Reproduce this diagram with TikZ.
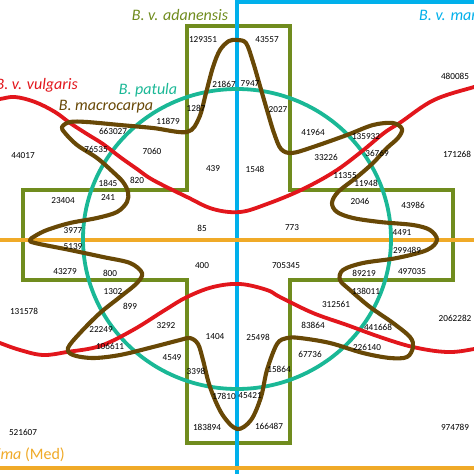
\documentclass[tikz,border=0pt]{standalone}
\usepackage{fontspec}
\setmainfont{Carlito}
\definecolor{vred}{RGB}{226,22,28}
\definecolor{mbrown}{RGB}{104,72,6}
\definecolor{pteal}{RGB}{26,184,150}
\definecolor{aolive}{RGB}{112,140,30}
\definecolor{mblue}{RGB}{0,176,235}
\definecolor{morange}{RGB}{240,170,40}
\begin{document}
\begin{tikzpicture}[x=1pt,y=-1pt,
  num/.style={font=\fontsize{9.2}{10}\selectfont, text=black, inner sep=0pt},
  setlab/.style={font=\fontsize{16}{18}\selectfont\itshape, inner sep=0pt},
  frame/.style={line width=3.2pt},
  curve/.style={line width=3.8pt, line join=round}]
\useasboundingbox (0,0) rectangle (474,474);
\fill[white] (0,0) rectangle (474,474);
\clip (0,0) rectangle (474,474);
% B. v. adanensis (cross)
\draw[aolive, frame] (187,26) -- (290,26) -- (290,190) -- (453,190) -- (453,280) -- (290,280) -- (290,443) -- (187,443) -- (187,280) -- (23,280) -- (23,190) -- (187,190) -- cycle;
% B. v. maritima (blue)
\draw[mblue, frame] (237,490) -- (237,2) -- (490,2);
% B. v. maritima (Med) (orange)
\draw[morange, frame] (-10,240) -- (490,240);
\draw[morange, frame] (-10,468) -- (490,468);
% B. patula
\draw[pteal, curve] (237,239) ellipse [x radius=154, y radius=150];
% B. v. vulgaris
\draw[vred, curve] plot[smooth, tension=0.6] coordinates {(-20,102) (0,99) (15,97) (35,102) (55,112) (70,123) (87,134) (103,144) (120,157) (137,169) (153,180) (187,197) (213,209) (240,212) (267,204) (301,190) (334,172) (361,152) (384,133) (401,122) (434,100) (474,87) (500,80)};
\draw[vred, curve] plot[smooth, tension=0.6] coordinates {(-20,335) (0,343) (20,350) (43,355) (67,352) (100,346) (133,330) (165,310) (187,297) (213,287) (240,284) (267,290) (280,297) (313,313) (347,325) (380,337) (413,347) (447,352) (474,349) (500,343)};
% B. macrocarpa
\draw[mbrown, curve, line width=4.1pt] plot[smooth cycle, tension=0.55] coordinates {
(237,40) (246,43) (253,62) (260,86) (267,110) (274,133) (281,149) (292,153)
(313,147) (347,135) (373,125) (393,123) (402,129)
(398,138) (387,148) (373,163) (357,177) (338,192) (332,203) (337,212) (353,218) (380,222) (413,225) (430,230) (437,240)
(427,250) (397,258) (363,263) (343,270) (340,280) (350,290) (370,307) (393,323) (410,337) (413,347)
(407,357) (390,358) (363,353) (330,343) (300,338) (287,338) (277,344) (267,370) (261,397) (251,420) (237,429)
(222,414) (210,387) (203,360) (198,344) (190,338) (180,340) (153,347) (120,355) (93,358) (73,355) (68,348)
(80,333) (100,313) (120,297) (137,283) (142,273) (130,263) (103,257) (70,250) (35,243) (30,240)
(35,236) (47,230) (70,223) (97,218) (117,212) (127,202) (128,192) (123,182) (113,172) (97,158) (77,145) (65,133) (62,127)
(70,122) (87,122) (120,125) (153,128) (187,132) (199,118) (206,93) (213,67) (220,50) (229,41)};
% set labels
\node[setlab, text=aolive] (ladan) at (180,15) {B. v. adanensis};
\node[setlab, text=mblue, anchor=west] (lmar) at (419,15) {B. v. maritima};
\node[setlab, text=vred, anchor=east] (lvul) at (78,85) {B. v. vulgaris};
\node[setlab, text=pteal] (lpat) at (148,90) {B. patula};
\node[setlab, text=mbrown] (lmac) at (106,107) {B. macrocarpa};
\node[setlab, text=morange, anchor=east] (lmed) at (65,455) {B. v. maritima \upshape(Med)};
% numbers
\node[num] (v129351) at (203,40) {129351};
\node[num] (v43557) at (267,40) {43557};
\node[num] (v21867) at (224,84) {21867};
\node[num] (v7947) at (250,84) {7947};
\node[num] (v480085) at (455,76) {480085};
\node[num] (v1287) at (196,108) {1287};
\node[num] (v2027) at (278,110) {2027};
\node[num] (v11879) at (168,121) {11879};
\node[num] (v663027) at (113,131) {663027};
\node[num] (v41964) at (313,132) {41964};
\node[num] (v135932) at (366,137) {135932};
\node[num] (v76535) at (96,149) {76535};
\node[num] (v7060) at (152,151) {7060};
\node[num] (v44017) at (23,156) {44017};
\node[num] (v33226) at (326,157) {33226};
\node[num] (v36769) at (377,153) {36769};
\node[num] (v171268) at (457,154) {171268};
\node[num] (v439) at (213,169) {439};
\node[num] (v1548) at (255,169) {1548};
\node[num] (v11355) at (345,176) {11355};
\node[num] (v1845) at (108,183) {1845};
\node[num] (v820) at (137,180) {820};
\node[num] (v11948) at (366,183) {11948};
\node[num] (v23404) at (63,201) {23404};
\node[num] (v241) at (108,198) {241};
\node[num] (v2046) at (360,201) {2046};
\node[num] (v43986) at (413,205) {43986};
\node[num] (v3977) at (73,231) {3977};
\node[num] (v85) at (202,228) {85};
\node[num] (v773) at (292,228) {773};
\node[num] (v4491) at (402,233) {4491};
\node[num] (v5139) at (73,247) {5139};
\node[num] (v299489) at (407,250) {299489};
\node[num] (v400) at (202,266) {400};
\node[num] (v705345) at (286,266) {705345};
\node[num] (v43279) at (65,272) {43279};
\node[num] (v800) at (110,273) {800};
\node[num] (v89219) at (364,273) {89219};
\node[num] (v497035) at (412,272) {497035};
\node[num] (v1302) at (113,292) {1302};
\node[num] (v138011) at (366,291) {138011};
\node[num] (v899) at (130,306) {899};
\node[num] (v312561) at (336,304) {312561};
\node[num] (v131578) at (24,311) {131578};
\node[num] (v2062282) at (455,318) {2062282};
\node[num] (v3292) at (166,326) {3292};
\node[num] (v22249) at (101,330) {22249};
\node[num] (v83864) at (313,325) {83864};
\node[num] (v441668) at (378,327) {441668};
\node[num] (v1404) at (215,337) {1404};
\node[num] (v25498) at (258,337) {25498};
\node[num] (v106611) at (110,346) {106611};
\node[num] (v226140) at (367,347) {226140};
\node[num] (v4549) at (172,358) {4549};
\node[num] (v67736) at (310,354) {67736};
\node[num] (v3398) at (196,371) {3398};
\node[num] (v15864) at (279,369) {15864};
\node[num] (v17810) at (224,396) {17810};
\node[num] (v45421) at (250,396) {45421};
\node[num] (v183894) at (207,427) {183894};
\node[num] (v166487) at (269,426) {166487};
\node[num] (v521607) at (23,432) {521607};
\node[num] (v974789) at (455,427) {974789};
\end{tikzpicture}
\end{document}
